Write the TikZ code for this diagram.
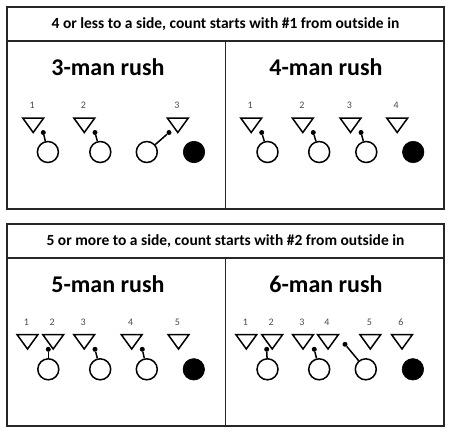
\documentclass[tikz,border=0pt]{standalone}
\usepackage{fontspec}
\setmainfont{Carlito}
\begin{document}
\begin{tikzpicture}[x=1pt,y=-1pt,
  frame/.style={line width=1.7pt,draw=black!85},
  head/.style={font=\bfseries\fontsize{15.5}{17}\selectfont,inner sep=0pt},
  ttl/.style={font=\bfseries\fontsize{24}{27}\selectfont,inner sep=0pt},
  num/.style={font=\fontsize{10}{11}\selectfont,text=black!70,inner sep=0pt},
  man/.style={circle,draw=black,line width=1.5pt,minimum size=21pt,inner sep=0pt},
  qb/.style={circle,fill=black,draw=black,line width=0.6pt,minimum size=21.5pt,inner sep=0pt},
  dot/.style={circle,fill=black,minimum size=5pt,inner sep=0pt},
  link/.style={line width=1.5pt},
  dtri/.pic={\draw[line width=1.5pt,line join=miter] (-10.5,0) -- (10.5,0) -- (0,14.5) -- cycle;}
]
\useasboundingbox (0,0) rectangle (450,432);
\fill[white] (0,0) rectangle (450,432);

% ---------- top panel ----------
\draw[frame] (7,7.3) rectangle (444,209.3);
\draw[frame] (7,41.3) -- (444,41.3);
\draw[frame] (225.5,41.3) -- (225.5,209.3);
\node[head] (h1) at (225.5,24.5) {4 or less to a side, count starts with \#1 from outside in};
\node[ttl] (t3) at (108,67) {3-man rush};
\node[ttl] (t4) at (326,67) {4-man rush};

% 3-man
\foreach \x/\n in {33.2/1,84.3/2,177.8/3}{
  \pic at (\x,118) {dtri};
  \node[num] at (\x-1,105) {\n};
}
\node[man] (a1) at (47.9,152) {};
\node[man] (a2) at (100.3,152) {};
\node[man] (a3) at (146.8,152) {};
\node[qb]  (aq) at (194,152) {};
\node[dot] (ad1) at (43.3,132.5) {};
\node[dot] (ad2) at (95,132.5) {};
\node[dot] (ad3) at (169,132.5) {};
\draw[link] (ad1) -- (a1);
\draw[link] (ad2) -- (a2);
\draw[link] (ad3) -- (a3);

% 4-man
\foreach \x/\n in {251.2/1,302.8/2,350.5/3,397.2/4}{
  \pic at (\x,118) {dtri};
  \node[num] at (\x-1,105) {\n};
}
\node[man] (b1) at (267.5,152) {};
\node[man] (b2) at (319.2,152) {};
\node[man] (b3) at (366.3,152) {};
\node[qb]  (bq) at (413.2,152) {};
\node[dot] (bd1) at (261.7,132.5) {};
\node[dot] (bd2) at (313.3,132.5) {};
\node[dot] (bd3) at (361,132.5) {};
\draw[link] (bd1) -- (b1);
\draw[link] (bd2) -- (b2);
\draw[link] (bd3) -- (b3);

% ---------- bottom panel ----------
\draw[frame] (7,223.8) rectangle (444,426);
\draw[frame] (7,257.7) -- (444,257.7);
\draw[frame] (225.5,257.7) -- (225.5,426);
\node[head] (h2) at (225.5,241) {5 or more to a side, count starts with \#2 from outside in};
\node[ttl] (t5) at (108,284) {5-man rush};
\node[ttl] (t6) at (326,284) {6-man rush};

% 5-man
\foreach \x/\n in {27.5/1,53.2/2,84.2/3,131.7/4,178.5/5}{
  \pic at (\x,334.5) {dtri};
  \node[num] at (\x-1,322) {\n};
}
\node[man] (c1) at (48.3,369.3) {};
\node[man] (c2) at (100.2,369.3) {};
\node[man] (c3) at (146.8,369.3) {};
\node[qb]  (cq) at (193.8,369.3) {};
\node[dot] (cd1) at (48.3,349.3) {};
\node[dot] (cd2) at (95,349.3) {};
\node[dot] (cd3) at (142.3,349.3) {};
\draw[link] (cd1) -- (c1);
\draw[link] (cd2) -- (c2);
\draw[link] (cd3) -- (c3);

% 6-man
\foreach \x/\n in {246.3/1,272.2/2,303/3,328/4,370.3/5,402/6}{
  \pic at (\x,334.5) {dtri};
  \node[num] at (\x-1,322) {\n};
}
\node[man] (e1) at (267.5,369.3) {};
\node[man] (e2) at (319.2,369.3) {};
\node[man] (e3) at (365.8,369.3) {};
\node[qb]  (eq) at (412.9,369.3) {};
\node[dot] (ed1) at (266.7,349.3) {};
\node[dot] (ed2) at (314.3,349.3) {};
\node[dot] (ed3) at (345,344.3) {};
\draw[link] (ed1) -- (e1);
\draw[link] (ed2) -- (e2);
\draw[link] (ed3) -- (e3);
\end{tikzpicture}
\end{document}
